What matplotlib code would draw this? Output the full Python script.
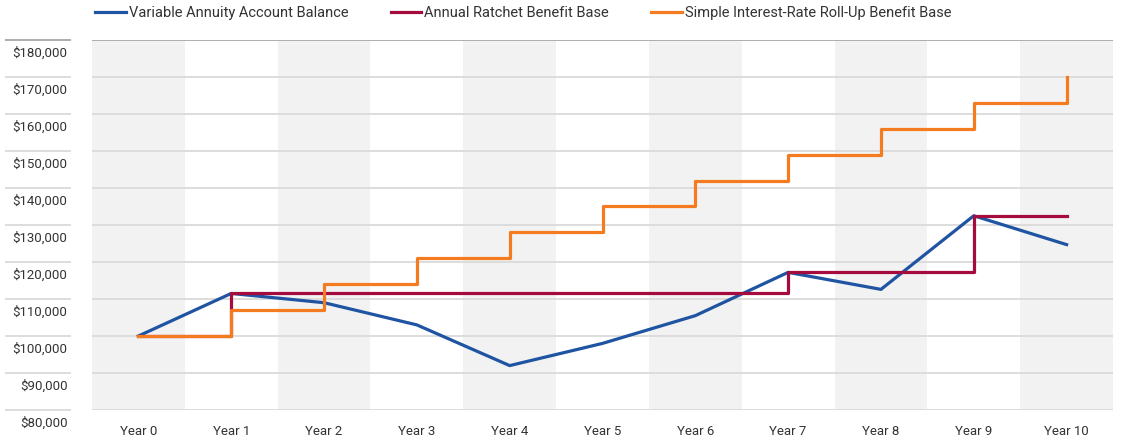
import numpy as np
import matplotlib.pyplot as plt
from matplotlib.transforms import ScaledTranslation

plt.rcParams['font.family'] = ['Liberation Sans Narrow', 'Roboto', 'DejaVu Sans']

#%% данные
years = np.arange(11)
year_labels = [f'Year {y}' for y in years]

account = [100000, 111500, 109000, 103000, 92000, 98000, 105500, 117200, 112600, 132500, 124700]
ratchet = [100000, 111500, 111500, 111500, 111500, 111500, 111500, 117200, 117200, 132500, 132500]
rollup = [100000, 107000, 114000, 121000, 128000, 135000, 142000, 149000, 156000, 163000, 170000]

yticks = np.arange(80000, 180001, 10000)

c_blue = '#1F54A3'
c_red = '#A50B3C'
c_orange = '#F47B20'

#%% график
fig = plt.figure(figsize=(11.21, 4.48), dpi=100)
ax = fig.add_axes([92/1121, 1 - 410/448, 1021/1121, 370/448])

for i in years[::2]:
    ax.axvspan(i - 0.5, i + 0.5, color='#F2F2F2', lw=0, zorder=0)

for y in yticks:
    col = '#A8A8A8' if y == yticks[-1] else '#DADADA'
    ax.axhline(y, color=col, lw=1.3, zorder=1)
ax.hlines(yticks, -0.085, -0.021, colors=['#DADADA'] * (len(yticks) - 1) + ['#A8A8A8'],
          lw=1.3, transform=ax.get_yaxis_transform(), clip_on=False)

ax.plot(years, account, color=c_blue, lw=2.3, zorder=3,
        label='Variable Annuity Account Balance')
ax.plot(years, ratchet, color=c_red, lw=2.3, drawstyle='steps-post', zorder=4,
        label='Annual Ratchet Benefit Base')
ax.plot(years, rollup, color=c_orange, lw=2.3, drawstyle='steps-post', zorder=5,
        label='Simple Interest-Rate Roll-Up Benefit Base')

ax.set_xlim(-0.5, 10.5)
ax.set_ylim(80000, 180000)
ax.set_xticks(years)
ax.set_xticklabels(year_labels, fontsize=9.5, color='#333333')
ax.tick_params(axis='x', length=0, pad=11)

# подписи оси y под линиями сетки
ax.set_yticks([])
off = ScaledTranslation(0, -5/72, fig.dpi_scale_trans)
for y in yticks:
    ax.text(-0.024, y, f'${y:,.0f}', transform=ax.get_yaxis_transform() + off,
            ha='right', va='top', fontsize=9.5, color='#333333')

for s in ax.spines.values():
    s.set_visible(False)

fig.legend(loc='upper left', bbox_to_anchor=(82/1121, 1.016), ncol=3, frameon=False,
           fontsize=10.5, handlelength=2.1, handletextpad=0.2, columnspacing=2.9,
           labelcolor='#333333')

fig.savefig('out.png', dpi=100)
